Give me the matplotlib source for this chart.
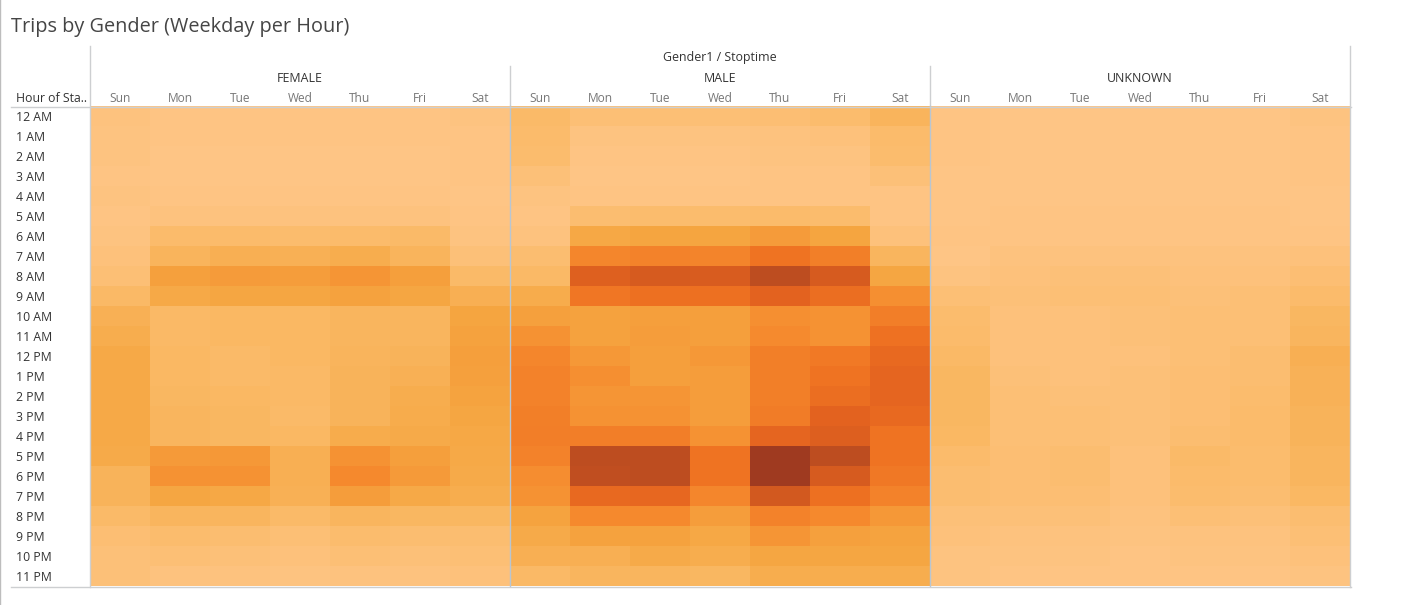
import numpy as np
import matplotlib
matplotlib.use("Agg")
import matplotlib.pyplot as plt
from matplotlib.colors import LinearSegmentedColormap

plt.rcParams['font.family'] = ['Open Sans', 'DejaVu Sans']

dias = ["Sun", "Mon", "Tue", "Wed", "Thu", "Fri", "Sat"]
horas = ["12 AM", "1 AM", "2 AM", "3 AM", "4 AM", "5 AM", "6 AM", "7 AM", "8 AM", "9 AM", "10 AM", "11 AM",
         "12 PM", "1 PM", "2 PM", "3 PM", "4 PM", "5 PM", "6 PM", "7 PM", "8 PM", "9 PM", "10 PM", "11 PM"]
generos = ["FEMALE", "MALE", "UNKNOWN"]

female = [
    [3, 1, 1, 1, 1, 1, 2],
    [2, 1, 1, 1, 1, 1, 1],
    [2, 0, 0, 0, 0, 0, 1],
    [1, 0, 0, 0, 0, 0, 1],
    [2, 1, 1, 1, 1, 1, 0],
    [1, 3, 3, 3, 3, 3, 1],
    [2, 10, 10, 9, 10, 11, 2],
    [4, 16, 20, 19, 22, 16, 5],
    [6, 31, 34, 33, 38, 32, 11],
    [12, 25, 27, 27, 30, 27, 20],
    [19, 12, 13, 13, 15, 15, 28],
    [22, 12, 13, 13, 15, 15, 30],
    [25, 13, 11, 13, 16, 17, 32],
    [25, 13, 11, 12, 17, 19, 31],
    [25, 14, 13, 12, 17, 22, 29],
    [25, 15, 14, 11, 17, 23, 27],
    [25, 15, 14, 13, 23, 24, 26],
    [24, 35, 36, 20, 40, 32, 25],
    [17, 40, 40, 20, 46, 35, 24],
    [17, 27, 26, 19, 33, 25, 22],
    [11, 15, 15, 11, 15, 14, 14],
    [7, 9, 8, 6, 9, 8, 8],
    [5, 6, 5, 4, 6, 5, 6],
    [5, 3, 3, 2, 3, 3, 4],
]
male = [
    [11, 6, 6, 6, 7, 9, 16],
    [10, 2, 2, 2, 3, 4, 10],
    [9, 1, 1, 1, 2, 2, 9],
    [5, 0, 0, 0, 1, 1, 5],
    [2, 1, 1, 1, 1, 1, 1],
    [1, 8, 9, 9, 10, 9, 1],
    [3, 26, 28, 28, 34, 28, 4],
    [8, 48, 50, 49, 60, 52, 15],
    [12, 72, 76, 75, 90, 76, 27],
    [23, 58, 62, 62, 70, 63, 42],
    [31, 30, 32, 32, 42, 40, 53],
    [40, 30, 33, 32, 45, 40, 61],
    [48, 36, 32, 36, 52, 56, 66],
    [50, 42, 32, 33, 52, 60, 68],
    [50, 38, 38, 33, 52, 63, 68],
    [52, 40, 40, 33, 54, 70, 66],
    [53, 53, 53, 40, 68, 73, 60],
    [50, 90, 90, 60, 100, 90, 60],
    [43, 89, 90, 60, 100, 76, 57],
    [40, 66, 67, 48, 78, 62, 50],
    [29, 46, 46, 33, 50, 46, 36],
    [24, 30, 30, 26, 38, 31, 29],
    [20, 20, 24, 22, 27, 27, 27],
    [12, 15, 15, 14, 22, 22, 22],
]
unknown = [
    [1, 0, 0, 0, 0, 0, 2],
    [1, 0, 0, 0, 0, 0, 1],
    [1, 0, 0, 0, 0, 0, 1],
    [0, 0, 0, 0, 0, 0, 1],
    [0, 0, 0, 0, 0, 0, 0],
    [0, 1, 1, 1, 1, 1, 0],
    [1, 1, 1, 1, 1, 1, 1],
    [0, 3, 3, 3, 3, 3, 4],
    [2, 4, 5, 5, 4, 4, 7],
    [6, 5, 6, 6, 5, 6, 10],
    [9, 4, 4, 5, 6, 6, 14],
    [10, 4, 4, 5, 6, 6, 15],
    [12, 4, 4, 4, 6, 8, 20],
    [14, 5, 4, 5, 7, 8, 18],
    [14, 6, 5, 5, 7, 9, 18],
    [14, 6, 6, 5, 7, 10, 17],
    [13, 6, 6, 5, 8, 10, 17],
    [10, 7, 8, 4, 11, 9, 15],
    [8, 7, 8, 4, 10, 9, 15],
    [8, 7, 7, 4, 9, 8, 13],
    [5, 5, 5, 3, 6, 5, 8],
    [4, 3, 3, 2, 3, 3, 6],
    [2, 2, 2, 1, 2, 2, 4],
    [2, 1, 1, 1, 1, 1, 2],
]

cmap = LinearSegmentedColormap.from_list("naranja", [
    (0.00, "#FEC585"), (0.12, "#FAB965"), (0.28, "#F5A540"), (0.45, "#F58A2E"),
    (0.60, "#EF7322"), (0.70, "#E3621F"), (0.78, "#D2591F"), (0.90, "#BE4D20"), (1.00, "#9F3A20"),
])

W, H = 1411, 605
fig = plt.figure(figsize=(W / 100, H / 100), dpi=100)
x0, x1, y0, y1 = 90, 1350, 106, 586
ax = fig.add_axes([x0 / W, 1 - y1 / H, (x1 - x0) / W, (y1 - y0) / H])

# las tres tablas van juntas, una al lado de la otra
datos = np.hstack([np.array(female), np.array(male), np.array(unknown)])
ax.pcolormesh(np.arange(22), np.arange(25), datos, cmap=cmap, vmin=0, vmax=100, linewidth=0, rasterized=True)
ax.set_xlim(0, 21)
ax.set_ylim(24, 0)
ax.set_xticks([])
ax.set_yticks([])
for s in ax.spines.values():
    s.set_visible(False)

linea = "#CDCFD1"
def px_x(x): return x / W
def px_y(y): return 1 - y / H

# lineas de la cabecera y separadores (agg las ajusta al pixel siguiente)
def vline(x, a, b, color=linea):
    fig.add_artist(plt.Line2D([px_x(x)] * 2, [px_y(a), px_y(b)], color=color, lw=1.0, zorder=5))
def hline(a, b, y, color=linea):
    fig.add_artist(plt.Line2D([px_x(a), px_x(b)], [px_y(y)] * 2, color=color, lw=1.0, zorder=5))

vline(0, 0, 605, "#BDBDBD")
vline(90, 46, 587)
vline(510, 66, 106)
vline(930, 66, 106)
vline(1350, 46, 587)
vline(510, 106, 586, "#B8C6D2")
vline(930, 106, 586, "#B8C6D2")
hline(11, 1351, 107)
hline(11, 1351, 587)

fig.text(px_x(11), px_y(32), "Trips by Gender (Weekday per Hour)", fontsize=14.3, color="#454545", va="baseline", ha="left")
fig.text(px_x(720), px_y(61.5), "Gender1 / Stoptime", fontsize=8.9, color="#333333", va="baseline", ha="center")
fig.text(px_x(16), px_y(101.5), "Hour of Sta..", fontsize=8.8, color="#333333", va="baseline", ha="left")

for i, g in enumerate(generos):
    fig.text(px_x(x0 + 210 + 420 * i), px_y(81.5), g, fontsize=8.9, color="#333333", va="baseline", ha="center")
    for j, d in enumerate(dias):
        fig.text(px_x(x0 + 30 + 420 * i + 60 * j), px_y(101.5), d, fontsize=8.6, color="#777777", va="baseline", ha="center")

for k, h in enumerate(horas):
    fig.text(px_x(16), px_y(y0 + 15 + 20 * k), h, fontsize=8.8, color="#333333", va="baseline", ha="left")

fig.savefig("out.png", dpi=100)
plt.close(fig)
